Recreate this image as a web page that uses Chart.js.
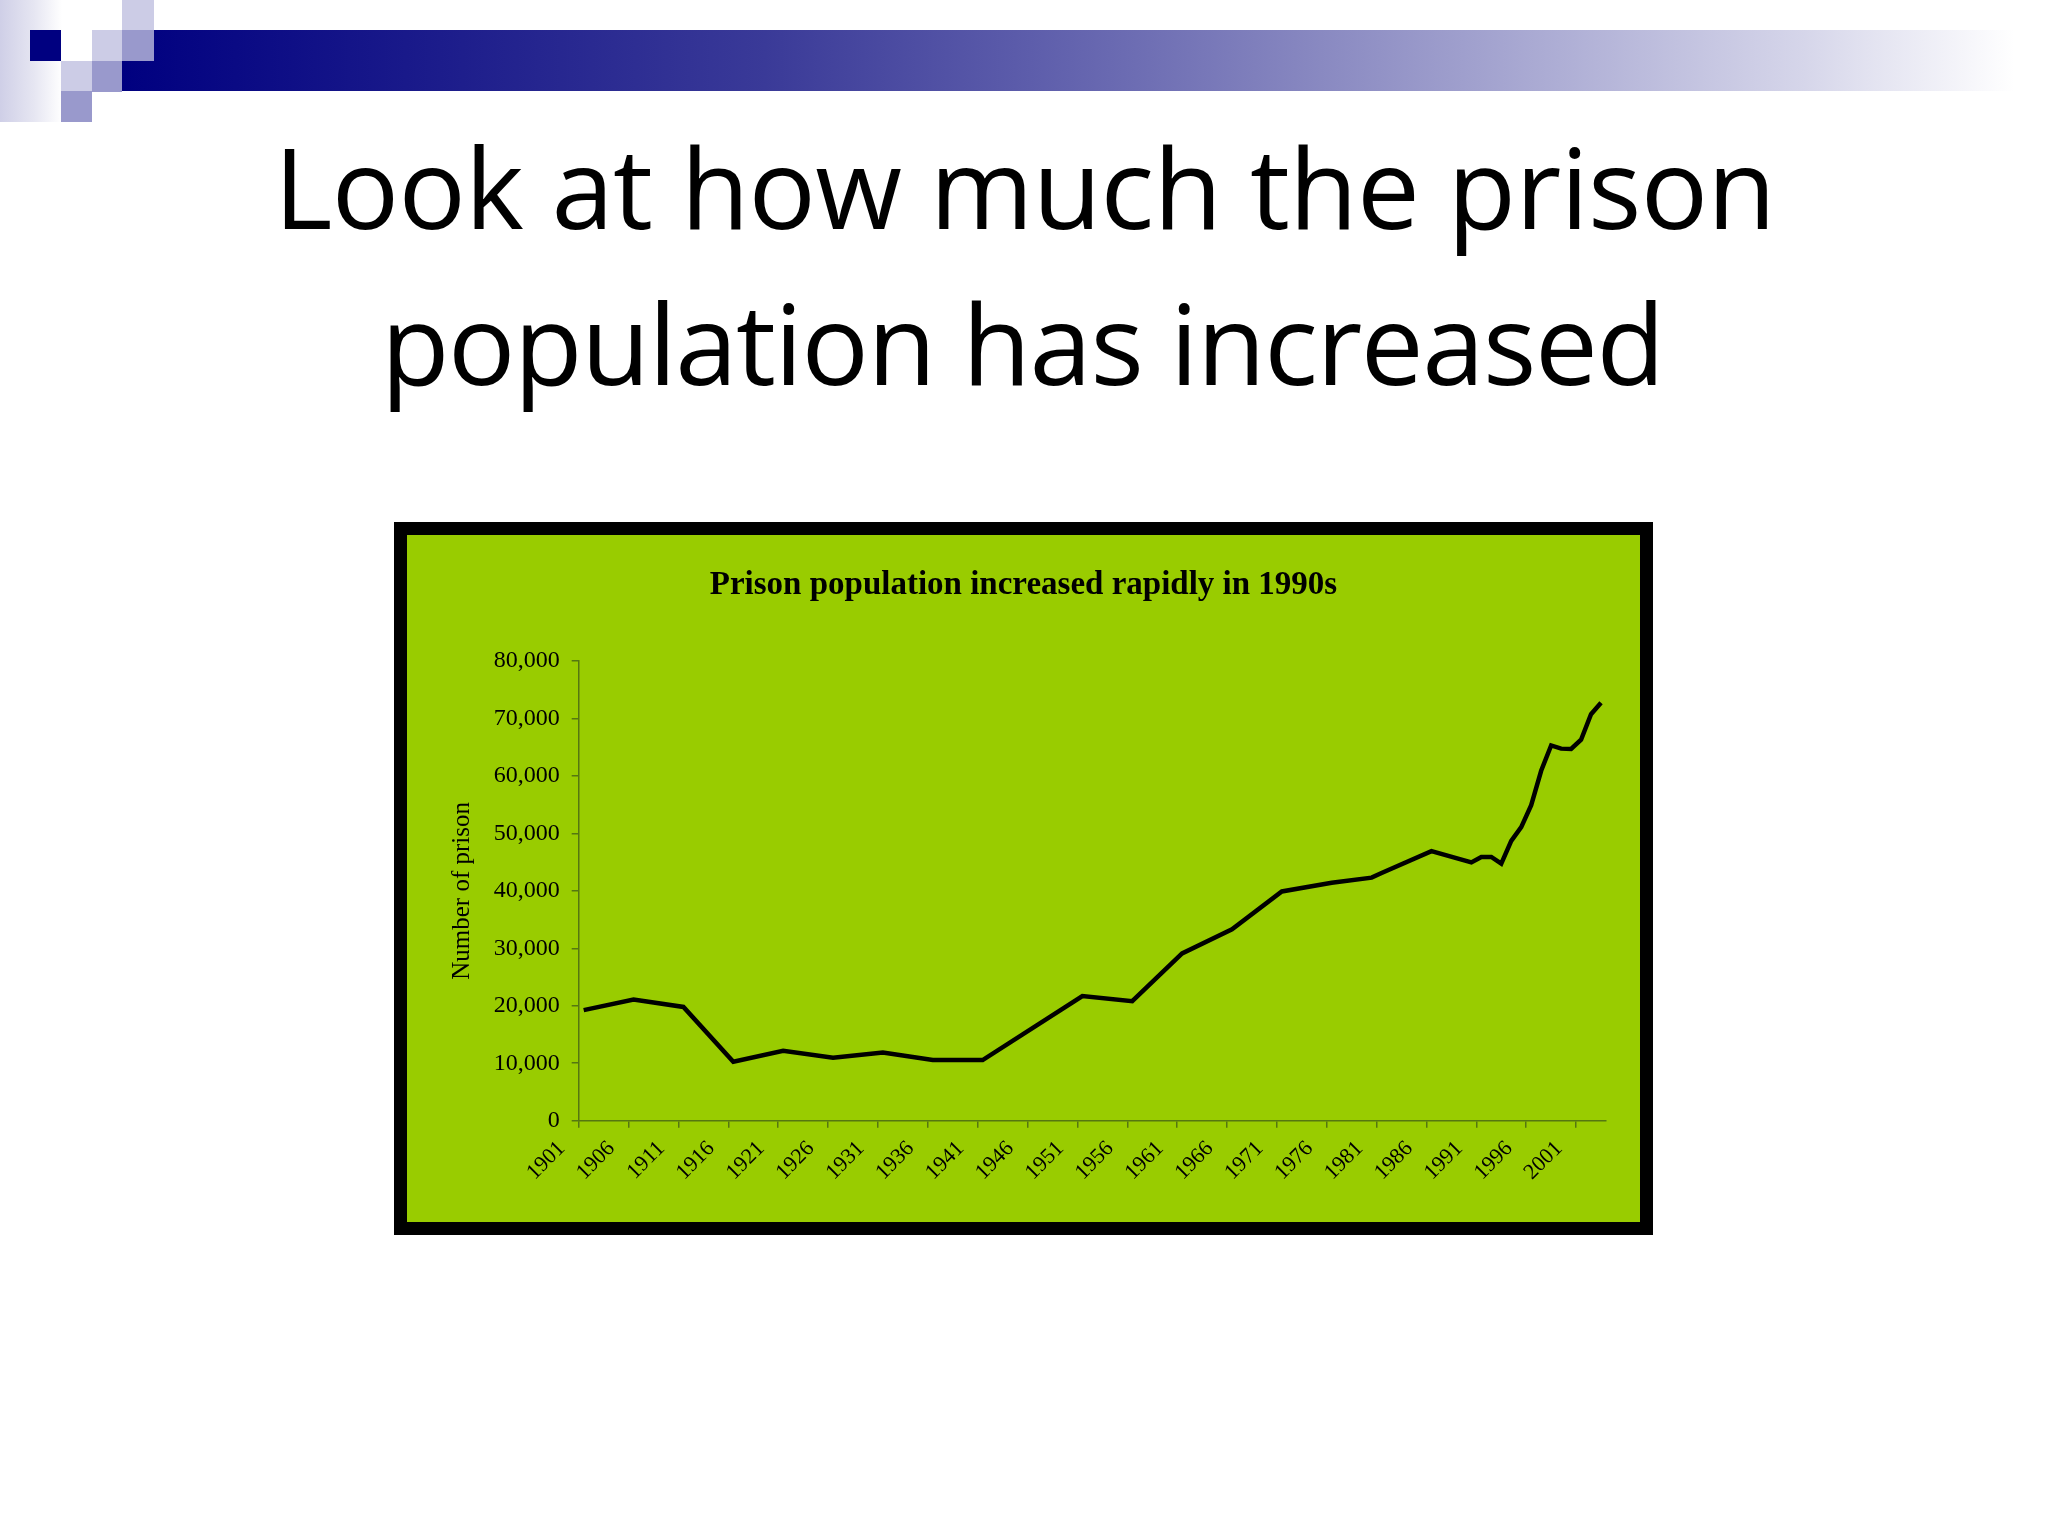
<!DOCTYPE html>
<html>
<head>
<meta charset="utf-8">
<script src="https://cdn.jsdelivr.net/npm/chart.js@4.4.1/dist/chart.umd.min.js"></script>
<style>
html,body{margin:0;padding:0;background:#ffffff;}
body{width:2048px;height:1536px;position:relative;overflow:hidden;}
#fade{position:absolute;left:0;top:0;width:62px;height:122px;background:linear-gradient(to right,#cfcfe7 0%,#e6e6f2 55%,#ffffff 100%);}
#bar{position:absolute;left:122px;top:30px;width:1892px;height:61px;
  background:linear-gradient(to right,#000080 0%,#1e1e8c 18%,#3a3a98 34%,#5d5dab 48%,#8585bf 62%,#aeaed5 76%,#d6d6ea 89%,#ffffff 100%);}
.sq{position:absolute;width:31px;height:31px;}
.ttl{position:absolute;left:0;white-space:nowrap;font-family:"Open Sans",sans-serif;font-weight:500;color:#000;line-height:1.2;}
.bl{display:inline-block;width:0;height:0;}
#box{position:absolute;left:394px;top:522px;width:1259px;height:713px;box-sizing:border-box;border:13px solid #000;background:#99cc00;}
#wrap{position:relative;width:1233px;height:687px;}
</style>
</head>
<body>
<div id="fade"></div>
<div id="bar"></div>
<div class="sq" style="left:30px;top:30px;background:#000080;"></div>
<div class="sq" style="left:92px;top:30px;background:#ccccE6;"></div>
<div class="sq" style="left:122px;top:30px;background:#9999cc;width:32px;"></div>
<div class="sq" style="left:122px;top:0px;background:#ccccE6;width:32px;height:30px;"></div>
<div class="sq" style="left:61px;top:61px;background:#ccccE6;"></div>
<div class="sq" style="left:92px;top:61px;background:#9999cc;width:30px;"></div>
<div class="sq" style="left:61px;top:91px;background:#9999cc;"></div>

<div class="ttl" id="t1">Look at how much the prison<span class="bl"></span></div>
<div class="ttl" id="t2">population has increased<span class="bl"></span></div>

<div id="box"><div id="wrap"><canvas id="c"></canvas></div></div>

<script>
// ---- data ----
const slideTitleLines = ["Look at how much the prison", "population has increased"];
const chartTitle = "Prison population increased rapidly in 1990s";
const yAxisTitle = "Number of prison";
const categories = [
  "1901","1902","1903","1904","1905","1906","1907","1908","1909","1910",
  "1911","1912","1913","1914","1915","1916","1917","1918","1919","1920",
  "1921","1922","1923","1924","1925","1926","1927","1928","1929","1930",
  "1931","1932","1933","1934","1935","1936","1937","1938","1939","1940",
  "1941","1942","1943","1944","1945","1946","1947","1948","1949","1950",
  "1951","1952","1953","1954","1955","1956","1957","1958","1959","1960",
  "1961","1962","1963","1964","1965","1966","1967","1968","1969","1970",
  "1971","1972","1973","1974","1975","1976","1977","1978","1979","1980",
  "1981","1982","1983","1984","1985","1986","1987","1988","1989","1990",
  "1991","1992","1993","1994","1995","1996","1997","1998","1999","2000",
  "2001","2002","2003"
];
const dataYears = ["1901","1906","1911","1916","1921","1926","1931","1936","1941","1951",
  "1956","1961","1966","1971","1976","1980","1981","1986","1990","1991",
  "1992","1993","1994","1995","1996","1997","1998","1999","2000","2001","2002","2003"];
const prisonPopulation = [19250,21100,19800,10250,12150,10950,11850,10550,10550,21700,
  20800,29100,33300,39900,41400,42300,43100,46900,44950,45900,
  45900,44750,48700,51100,54900,60900,65300,64750,64700,66300,70750,72750];
const yTicks = [0,10000,20000,30000,40000,50000,60000,70000,80000];

// series aligned to categories (gaps where no observation)
const seriesValues = categories.map(c => {
  const k = dataYears.indexOf(c);
  return k >= 0 ? prisonPopulation[k] : null;
});

// ---- slide title placement ----
function fitLine(id, text, left, right, baseline, size) {
  const el = document.getElementById(id);
  el.style.fontSize = size + 'px';
  const c = document.createElement('canvas').getContext('2d');
  c.font = '500 ' + size + 'px "Open Sans"';
  const w = c.measureText(text).width;
  const target = right - left;
  const ls = (target - w) / (text.length - 1);
  el.style.letterSpacing = ls + 'px';
  el.style.left = left + 'px';
  el.style.top = '0px';
  const b = el.querySelector('.bl').getBoundingClientRect().bottom;
  el.style.top = (baseline - b) + 'px';
}

const serif = "'Liberation Serif','Times New Roman',serif";
const axisColor = '#557711';

function draw() {
  fitLine('t1', slideTitleLines[0], 274, 1776, 229, 112);
  fitLine('t2', slideTitleLines[1], 381, 1665, 385, 112);

  new Chart(document.getElementById('c'), {
    type: 'line',
    data: {
      labels: categories,
      datasets: [{
        data: seriesValues,
        borderColor: '#000000',
        borderWidth: 4.5,
        pointRadius: 0,
        tension: 0,
        spanGaps: true,
        fill: false
      }]
    },
    options: {
      responsive: true,
      maintainAspectRatio: false,
      animation: false,
      devicePixelRatio: 1,
      layout: { padding: 0 },
      plugins: {
        legend: { display: false },
        tooltip: { enabled: false },
        title: {
          display: true, text: chartTitle, color: '#000',
          font: { family: serif, size: 33, weight: 'bold', lineHeight: 1.2 },
          padding: { top: 31, bottom: 55.4 }
        }
      },
      scales: {
        x: {
          type: 'category',
          offset: true,
          grid: {
            display: true, offset: true, drawOnChartArea: false, drawTicks: true, tickLength: 7,
            lineWidth: 1.5,
            color: (ctx) => (ctx.index % 5 === 0 ? axisColor : 'rgba(0,0,0,0)')
          },
          border: { display: true, color: axisColor, width: 1.5 },
          ticks: {
            autoSkip: false, maxRotation: 45, minRotation: 45, color: '#000',
            font: { family: serif, size: 22 }, padding: 8, labelOffset: -22,
            callback: function (v, i) { return i % 5 === 0 ? this.getLabelForValue(v) : ''; }
          },
          afterFit: (s) => { s.height = 101.3; }
        },
        y: {
          min: 0, max: 80000,
          afterBuildTicks: (s) => { s.ticks = yTicks.map(v => ({ value: v })); },
          grid: { drawOnChartArea: false, drawTicks: true, tickLength: 7, color: axisColor, lineWidth: 1.5 },
          border: { display: true, color: axisColor, width: 1.5 },
          ticks: {
            color: '#000', font: { family: serif, size: 24 }, padding: 12,
            callback: (v) => Number(v).toLocaleString('en-US')
          },
          title: {
            display: true, text: yAxisTitle, color: '#000',
            font: { family: serif, size: 25 }, padding: { top: 40, bottom: 0 }
          },
          afterFit: (s) => { s.width = 171.7; }
        },
        yRight: {
          position: 'right', display: true,
          grid: { display: false }, border: { display: false },
          ticks: { display: false },
          afterFit: (s) => { s.width = 34; }
        }
      }
    }
  });
}
if (document.fonts && document.fonts.ready) { document.fonts.load('500 112px "Open Sans"').then(draw, draw); } else { draw(); }
</script>
</body>
</html>
